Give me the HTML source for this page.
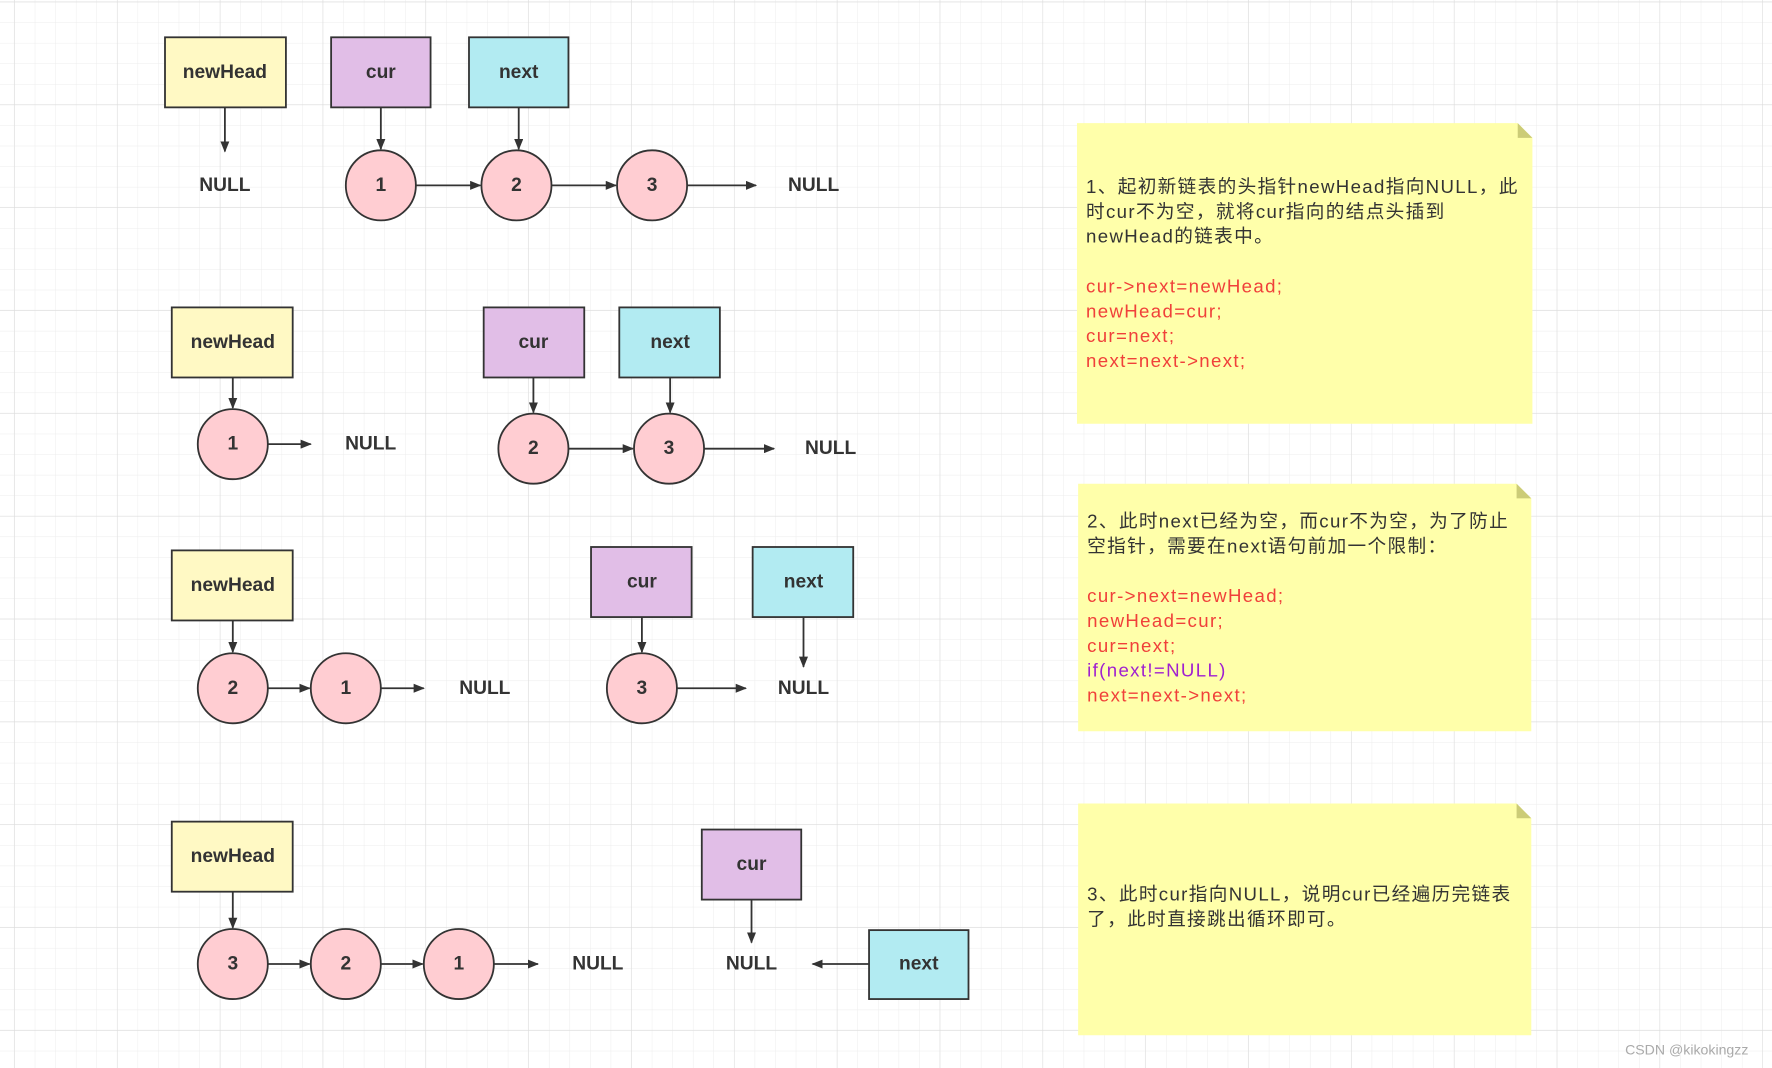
<!DOCTYPE html>
<html><head><meta charset="utf-8"><style>
html,body{margin:0;padding:0;background:#fff;}
svg{display:block}
.b{font-family:"Liberation Sans","Noto Sans CJK SC",sans-serif;font-weight:bold;font-size:17px;fill:#333;}
.t{font-family:"Liberation Sans","Noto Sans CJK SC",sans-serif;font-size:16.5px;fill:#333;letter-spacing:1.2px;}
.r{fill:#f0403a}
.p{fill:#a020d0}
</style></head><body>
<svg width="1772" height="1068" viewBox="0 0 1568 945" preserveAspectRatio="none" xmlns="http://www.w3.org/2000/svg">
<defs>
<pattern id="mi" width="18.2" height="18.2" patternUnits="userSpaceOnUse" x="13" y="2"><path d="M18.2 0V18.2M0 18.2H18.2" stroke="#ececec" stroke-width="0.8" fill="none"/></pattern>
<pattern id="ma" width="91" height="91" patternUnits="userSpaceOnUse" x="13" y="2"><path d="M91 0V91M0 91H91" stroke="#dcdcdc" stroke-width="1" fill="none"/></pattern>
<marker id="a" markerWidth="10" markerHeight="8" refX="9" refY="4" orient="auto" markerUnits="userSpaceOnUse"><path d="M0 0L10 4L0 8z" fill="#333"/></marker>
</defs>
<rect width="1568" height="945" fill="#fff"/>
<rect width="1568" height="945" fill="url(#mi)"/>
<rect width="1568" height="945" fill="url(#ma)"/>
<g stroke="#333" stroke-width="1.6">
<rect x="146" y="33" width="107" height="62" fill="#fff9c4"/>
<rect x="293" y="33" width="88" height="62" fill="#e1bee7"/>
<rect x="415" y="33" width="88" height="62" fill="#b2ebf2"/>
<circle cx="337" cy="164" r="31" fill="#ffcdd2"/>
<circle cx="457" cy="164" r="31" fill="#ffcdd2"/>
<circle cx="577" cy="164" r="31" fill="#ffcdd2"/>
<line x1="199" y1="95" x2="199" y2="134" marker-end="url(#a)"/>
<line x1="337" y1="95" x2="337" y2="132" marker-end="url(#a)"/>
<line x1="459" y1="95" x2="459" y2="132" marker-end="url(#a)"/>
<line x1="368" y1="164" x2="425" y2="164" marker-end="url(#a)"/>
<line x1="488" y1="164" x2="545" y2="164" marker-end="url(#a)"/>
<line x1="608" y1="164" x2="669" y2="164" marker-end="url(#a)"/>
<rect x="152" y="272" width="107" height="62" fill="#fff9c4"/>
<rect x="428" y="272" width="89" height="62" fill="#e1bee7"/>
<rect x="548" y="272" width="89" height="62" fill="#b2ebf2"/>
<circle cx="206" cy="393" r="31" fill="#ffcdd2"/>
<circle cx="472" cy="397" r="31" fill="#ffcdd2"/>
<circle cx="592" cy="397" r="31" fill="#ffcdd2"/>
<line x1="206" y1="334" x2="206" y2="361" marker-end="url(#a)"/>
<line x1="472" y1="334" x2="472" y2="365" marker-end="url(#a)"/>
<line x1="593" y1="334" x2="593" y2="365" marker-end="url(#a)"/>
<line x1="237" y1="393" x2="275" y2="393" marker-end="url(#a)"/>
<line x1="503" y1="397" x2="560" y2="397" marker-end="url(#a)"/>
<line x1="623" y1="397" x2="685" y2="397" marker-end="url(#a)"/>
<rect x="152" y="487" width="107" height="62" fill="#fff9c4"/>
<rect x="523" y="484" width="89" height="62" fill="#e1bee7"/>
<rect x="666" y="484" width="89" height="62" fill="#b2ebf2"/>
<circle cx="206" cy="609" r="31" fill="#ffcdd2"/>
<circle cx="306" cy="609" r="31" fill="#ffcdd2"/>
<circle cx="568" cy="609" r="31" fill="#ffcdd2"/>
<line x1="206" y1="549" x2="206" y2="577" marker-end="url(#a)"/>
<line x1="568" y1="546" x2="568" y2="577" marker-end="url(#a)"/>
<line x1="711" y1="546" x2="711" y2="590" marker-end="url(#a)"/>
<line x1="237" y1="609" x2="274" y2="609" marker-end="url(#a)"/>
<line x1="337" y1="609" x2="375" y2="609" marker-end="url(#a)"/>
<line x1="599" y1="609" x2="660" y2="609" marker-end="url(#a)"/>
<rect x="152" y="727" width="107" height="62" fill="#fff9c4"/>
<rect x="621" y="734" width="88" height="62" fill="#e1bee7"/>
<rect x="769" y="823" width="88" height="61" fill="#b2ebf2"/>
<circle cx="206" cy="853" r="31" fill="#ffcdd2"/>
<circle cx="306" cy="853" r="31" fill="#ffcdd2"/>
<circle cx="406" cy="853" r="31" fill="#ffcdd2"/>
<line x1="206" y1="789" x2="206" y2="821" marker-end="url(#a)"/>
<line x1="665" y1="796" x2="665" y2="834" marker-end="url(#a)"/>
<line x1="237" y1="853" x2="274" y2="853" marker-end="url(#a)"/>
<line x1="337" y1="853" x2="374" y2="853" marker-end="url(#a)"/>
<line x1="437" y1="853" x2="476" y2="853" marker-end="url(#a)"/>
<line x1="769" y1="853" x2="719" y2="853" marker-end="url(#a)"/>
</g>
<g class="b" text-anchor="middle" dominant-baseline="central">
<text x="199" y="64">newHead</text><text x="337" y="64">cur</text><text x="459" y="64">next</text>
<text x="199" y="164">NULL</text><text x="337" y="164">1</text><text x="457" y="164">2</text><text x="577" y="164">3</text><text x="720" y="164">NULL</text>
<text x="206" y="303">newHead</text><text x="472" y="303">cur</text><text x="593" y="303">next</text>
<text x="206" y="393">1</text><text x="328" y="393">NULL</text><text x="472" y="397">2</text><text x="592" y="397">3</text><text x="735" y="397">NULL</text>
<text x="206" y="518">newHead</text><text x="568" y="515">cur</text><text x="711" y="515">next</text>
<text x="206" y="609">2</text><text x="306" y="609">1</text><text x="429" y="609">NULL</text><text x="568" y="609">3</text><text x="711" y="609">NULL</text>
<text x="206" y="758">newHead</text><text x="665" y="765">cur</text><text x="813" y="853">next</text>
<text x="206" y="853">3</text><text x="306" y="853">2</text><text x="406" y="853">1</text><text x="529" y="853">NULL</text><text x="665" y="853">NULL</text>
</g>
<path d="M953 109H1343L1356 122V375H953Z" fill="#ffffaa"/><path d="M1343 109L1356 122H1343Z" fill="#cccc77"/>
<path d="M954 428H1342L1355 441V647H954Z" fill="#ffffaa"/><path d="M1342 428L1355 441H1342Z" fill="#cccc77"/>
<path d="M954 711H1342L1355 724V916H954Z" fill="#ffffaa"/><path d="M1342 711L1355 724H1342Z" fill="#cccc77"/>
<g class="t" dominant-baseline="central">
<text x="961" y="165">1、起初新链表的头指针newHead指向NULL，此</text>
<text x="961" y="187">时cur不为空，就将cur指向的结点头插到</text>
<text x="961" y="209">newHead的链表中。</text>
<text class="t r" x="961" y="253">cur-&gt;next=newHead;</text>
<text class="t r" x="961" y="275">newHead=cur;</text>
<text class="t r" x="961" y="297">cur=next;</text>
<text class="t r" x="961" y="319">next=next-&gt;next;</text>
<text x="962" y="461">2、此时next已经为空，而cur不为空，为了防止</text>
<text x="962" y="483">空指针，需要在next语句前加一个限制：</text>
<text class="t r" x="962" y="527">cur-&gt;next=newHead;</text>
<text class="t r" x="962" y="549">newHead=cur;</text>
<text class="t r" x="962" y="571">cur=next;</text>
<text class="t p" x="962" y="593">if(next!=NULL)</text>
<text class="t r" x="962" y="615">next=next-&gt;next;</text>
<text x="962" y="791">3、此时cur指向NULL，说明cur已经遍历完链表</text>
<text x="962" y="813">了，此时直接跳出循环即可。</text>
</g>
<text x="1438" y="933" font-family="Liberation Sans,sans-serif" font-size="12.5" fill="#aaa">CSDN @kikokingzz</text>
</svg>
</body></html>
